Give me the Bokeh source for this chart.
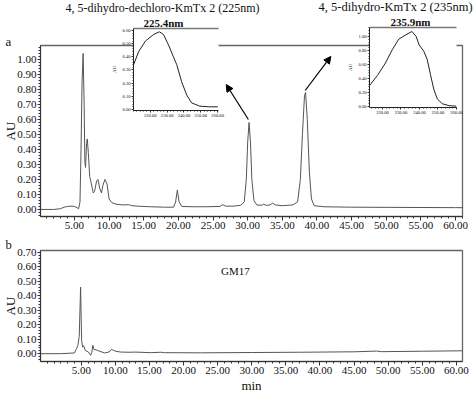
import numpy as np
from bokeh.plotting import figure
from bokeh.models import (Range1d, FixedTicker, PrintfTickFormatter, Label, Arrow,
                          NormalHead, LinearAxis, Title)
from bokeh.layouts import column
from bokeh.embed import file_html
from bokeh.resources import INLINE

FONT = "Liberation Serif"

# ---------------- data: panel a chromatogram (min, AU) ----------------
time_a = [0.0, 2.0, 3.0, 3.5, 4.0, 4.5, 5.0, 5.4, 5.6, 5.8, 5.95, 6.1, 6.25, 6.4, 6.5,
          6.6, 6.75, 6.85, 7.0, 7.2, 7.45, 7.7, 7.9, 8.2, 8.4, 8.65, 8.9, 9.1, 9.4, 9.7,
          10.0, 10.4, 11.0, 12.0, 12.8, 13.2, 14.0, 16.0, 18.0, 19.3, 19.6, 19.85, 20.1,
          20.5, 22.0, 24.0, 26.0, 26.4, 26.8, 28.0, 29.0, 29.5, 29.8, 30.0, 30.2, 30.4,
          30.6, 30.9, 31.3, 32.0, 32.3, 32.7, 33.2, 33.6, 34.0, 35.0, 36.5, 37.2, 37.6,
          37.9, 38.2, 38.35, 38.6, 38.9, 39.2, 39.6, 41.0, 45.0, 50.0, 55.0, 60.0, 61.0]
au_a = [0.0, 0.0, 0.005, 0.015, 0.02, 0.022, 0.02, 0.01, 0.005, 0.05, 0.4, 0.85, 1.04, 0.7, 0.32,
        0.28, 0.44, 0.47, 0.38, 0.22, 0.17, 0.11, 0.12, 0.19, 0.20, 0.14, 0.11, 0.16, 0.20, 0.17,
        0.07, 0.045, 0.035, 0.03, 0.032, 0.026, 0.022, 0.018, 0.015, 0.015, 0.05, 0.13, 0.05,
        0.02, 0.018, 0.018, 0.02, 0.032, 0.022, 0.022, 0.028, 0.05, 0.2, 0.45, 0.58, 0.45,
        0.2, 0.06, 0.03, 0.028, 0.035, 0.027, 0.03, 0.042, 0.03, 0.025, 0.03, 0.05, 0.2,
        0.5, 0.76, 0.78, 0.6, 0.25, 0.07, 0.025, 0.018, 0.015, 0.014, 0.013, 0.012, 0.012]

# ---------------- data: panel b chromatogram (GM17) ----------------
time_b = [-1.0, 2.0, 4.0, 4.3, 4.5, 4.7, 4.9, 5.05, 5.2, 5.35, 5.6, 6.05, 6.37, 6.55, 6.7,
          6.85, 7.4, 8.4, 9.1, 9.4, 9.7, 10.1, 10.85, 12.0, 13.0, 15.2, 16.7, 17.2, 22.5,
          30.0, 37.0, 45.0, 48.3, 49.0, 55.0, 61.0]
au_b = [0.0, 0.0, 0.005, 0.035, 0.056, 0.12, 0.46, 0.09, 0.045, 0.055, 0.022, 0.011, -0.011, 0.011, 0.058,
        0.03, 0.022, 0.005, 0.012, 0.03, 0.024, 0.016, 0.011, 0.01, 0.011, 0.007, 0.01, 0.007, 0.006,
        0.008, 0.01, 0.013, 0.018, 0.014, 0.017, 0.02]

# ---------------- data: UV spectra insets ----------------
wl_1 = [209.6, 213.1, 217.1, 222.0, 225.4, 227.8, 230.8, 233.7, 235.7, 238.6, 241.6, 244.5, 249.4, 255.0, 260.0]
abs_1 = [0.325, 0.44, 0.52, 0.57, 0.59, 0.57, 0.49, 0.40, 0.34, 0.21, 0.11, 0.05, 0.025, 0.02, 0.02]
wl_2 = [213.2, 217.2, 221.6, 225.3, 228.8, 232.4, 235.9, 238.2, 239.8, 242.3, 244.2, 245.9, 247.7, 249.6, 252.3, 256.0, 260.0]
abs_2 = [0.305, 0.44, 0.62, 0.81, 0.96, 1.02, 1.07, 1.00, 0.88, 0.79, 0.67, 0.46, 0.25, 0.11, 0.04, 0.012, 0.005]

# ---------------- tick definitions ----------------
x_major = [5, 10, 15, 20, 25, 30, 35, 40, 45, 50, 55, 60]
x_minor = list(range(0, 62))
ya_major = [0.0, 0.1, 0.2, 0.3, 0.4, 0.5, 0.6, 0.7, 0.8, 0.9, 1.0]
yb_major = [0.0, 0.1, 0.2, 0.3, 0.4, 0.5, 0.6, 0.7]
y_minor_a = [round(i * 0.02, 2) for i in range(-2, 55)]
y_minor_b = [round(i * 0.02, 2) for i in range(-2, 36)]
wl_ticks = [220, 230, 240, 250, 260]
wl_minor = list(range(210, 262, 2))
i1_yticks = [0.0, 0.1, 0.2, 0.3, 0.4, 0.5, 0.6]
i1_yminor = [round(i * 0.02, 2) for i in range(0, 31)]
i2_yticks = [0.0, 0.2, 0.4, 0.6, 0.8, 1.0]
i2_yminor = [round(i * 0.04, 2) for i in range(0, 29)]

peak_times = [30.2, 38.35]
peak_au = [0.58, 0.78]


def style_axes(p, xt, xm, yt, ym, size="11px"):
    p.xgrid.visible = False
    p.ygrid.visible = False
    p.xaxis.ticker = FixedTicker(ticks=xt, minor_ticks=xm)
    p.yaxis.ticker = FixedTicker(ticks=yt, minor_ticks=ym)
    for ax in (p.xaxis[0], p.yaxis[0]):
        ax.formatter = PrintfTickFormatter(format="%.2f")
        ax.major_label_text_font = FONT
        ax.major_label_text_font_size = size
        ax.major_label_text_color = "#111111"
        ax.axis_line_color = "#333333"
        ax.major_tick_line_color = "#333333"
        ax.minor_tick_line_color = "#333333"
        ax.major_tick_in = 0
        ax.minor_tick_in = 0


def axis_title(ax, text, size="13px", standoff=1):
    ax.axis_label = text
    ax.axis_label_text_font = FONT
    ax.axis_label_text_font_size = size
    ax.axis_label_text_font_style = "normal"
    ax.axis_label_text_color = "#111111"
    ax.axis_label_standoff = standoff


def side_title(text, offset, size, standoff, style="normal"):
    return Title(text=text, align="left", offset=offset, standoff=standoff,
                 text_font=FONT, text_font_size=size, text_font_style=style,
                 text_color="#111111")


def main_axes(p):
    p.xaxis.major_tick_out = 4
    p.yaxis.major_tick_out = 3
    p.xaxis.minor_tick_out = 2
    p.yaxis.minor_tick_out = 2
    p.xaxis.major_label_standoff = 1
    p.yaxis.major_label_standoff = 1
    axis_title(p.yaxis[0], "AU", size="13px", standoff=-4)
    p.outline_line_color = "#666666"
    p.outline_line_width = 1.3


# ---------------- panel a ----------------
pa = figure(width=474, height=234, x_range=Range1d(0.1, 61.0), y_range=Range1d(-0.047, 1.093),
            output_backend="svg", toolbar_location=None,
            min_border_left=39, min_border_right=12, min_border_top=45, min_border_bottom=18)
style_axes(pa, x_major, x_minor, ya_major, y_minor_a)
main_axes(pa)
pa.line(time_a, au_a, line_color="#555555", line_width=1)
pa.add_layout(side_title("a", -35, "13px", -7), "above")

arrow_ends = [(26.9, 0.833), (42.0, 1.02)]
arrow_starts = [(peak_times[0] - 0.1, peak_au[0] + 0.02), (peak_times[1] - 0.05, peak_au[1] + 0.013)]
for (xs, ys), (xe, ye) in zip(arrow_starts, arrow_ends):
    pa.add_layout(Arrow(end=NormalHead(size=7, fill_color="black", line_color="black"),
                        x_start=xs, y_start=ys, x_end=xe, y_end=ye,
                        line_color="black", line_width=1.2))

# ---------------- panel b ----------------
pb = figure(width=474, height=161, x_range=Range1d(-0.98, 60.9), y_range=Range1d(-0.054, 0.713),
            output_backend="svg", toolbar_location=None,
            min_border_left=39, min_border_right=11, min_border_top=16, min_border_bottom=32)
style_axes(pb, x_major, x_minor, yb_major, y_minor_b)
main_axes(pb)
axis_title(pb.xaxis[0], "min", standoff=1)
pb.line(time_b, au_b, line_color="#555555", line_width=1)
pb.add_layout(side_title("b", -35, "12.5px", -3), "above")
pb.add_layout(Label(x=27.6, y=0.572, text="GM17", text_font=FONT, text_font_size="11px",
                    text_align="center", text_baseline="middle", text_color="#111111"))


# ---------------- insets (UV spectra) ----------------
def make_inset(wl, ab, xr, yr, yt, ym, w, h, left, top, mbl, mbr, mbt, mbb,
               peak_label, peak_off, peak_so, title, title_off, title_so, title_size):
    p = figure(width=w, height=h, x_range=Range1d(*xr), y_range=Range1d(*yr),
               output_backend="svg", toolbar_location=None,
               min_border_left=mbl, min_border_right=mbr, min_border_top=mbt, min_border_bottom=mbb,
               background_fill_color="white", border_fill_color=None, outline_line_color=None,
               styles={"position": "absolute", "left": f"{left}px", "top": f"{top}px"})
    style_axes(p, wl_ticks, wl_minor, yt, ym, size="4.6px")
    for ax in (p.xaxis[0], p.yaxis[0]):
        ax.major_tick_out = 2
        ax.minor_tick_out = 1
        ax.major_label_standoff = 1
        ax.axis_line_color = "#222222"
    axis_title(p.yaxis[0], "AU", size="5px", standoff=2)
    top_ax = LinearAxis(ticker=FixedTicker(ticks=[]), major_tick_line_color=None,
                        minor_tick_line_color=None, major_tick_out=0, minor_tick_out=0,
                        major_label_standoff=0,
                        axis_line_color="#777777", axis_line_width=1.5)
    p.add_layout(top_ax, "above")
    p.add_layout(side_title(peak_label, peak_off, "11px", peak_so, "bold"), "above")
    p.add_layout(side_title(title, title_off, title_size, title_so), "above")
    p.line(wl, ab, line_color="#222222", line_width=1)
    return p


i1 = make_inset(wl_1, abs_1, (210, 260.5), (-0.008, 0.615), i1_yticks, i1_yminor,
                232, 124, 40, -2, 93, 54, 29, 12,
                "225.4nm", 10, 0, "4, 5-dihydro-dechloro-KmTx 2 (225nm)", -68, 0, "12px")
i2 = make_inset(wl_2, abs_2, (213, 260), (-0.014, 1.127), i2_yticks, i2_yminor,
                159, 123, 315, -3, 54, 18, 26, 13,
                "235.9nm", 21, 0, "4, 5-dihydro-KmTx 2 (235nm)", -51, 0, "12.5px")

main = column(pa, pb, spacing=0)
open("out.html", "w").write(file_html([main, i1, i2], INLINE))
